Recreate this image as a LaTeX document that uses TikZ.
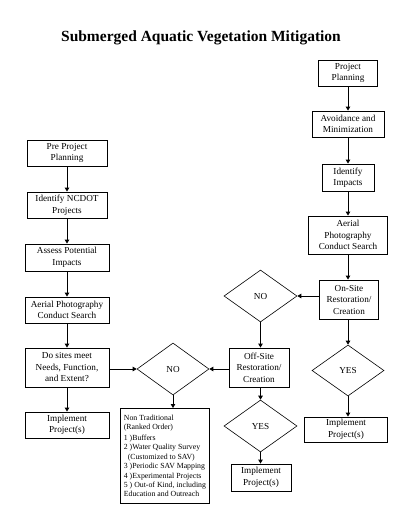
\documentclass[tikz,border=0pt]{standalone}
\usepackage{fontspec}
\setmainfont{Liberation Serif}
\usetikzlibrary{shapes.geometric,arrows.meta}
\tikzset{
  box/.style={draw,line width=0.9pt,inner sep=0pt,align=center,font=\fontsize{9.2}{11.5}\selectfont},
  dia/.style={draw,line width=0.6pt,diamond,inner sep=0pt,font=\fontsize{9.2}{11}\selectfont},
  arr/.style={line width=0.9pt,-{Triangle[width=4.5pt,length=4pt]}},
  ln/.style={line width=0.9pt}
}
\begin{document}
\begin{tikzpicture}[x=1pt,y=-1pt]
\useasboundingbox (0,0) rectangle (407,527);
\node[font=\fontsize{15.5}{17}\selectfont\bfseries] (title) at (201,38) {Submerged Aquatic Vegetation Mitigation};
% right column
\node[box,minimum width=59,minimum height=26] (pp) at (348,73) {Project\\Planning};
\node[box,minimum width=72,minimum height=26] (am) at (348,124) {Avoidance and\\Minimization};
\node[box,minimum width=52,minimum height=27] (ii) at (348,177.5) {Identify\\Impacts};
\node[box,minimum width=79,minimum height=38] (apr) at (348,235) {Aerial\\Photography\\Conduct Search};
\node[box,minimum width=59,minimum height=39] (os) at (349,299.5) {On-Site\\Restoration/\\Creation};
\node[dia,minimum width=73,minimum height=52] (no1) at (260.5,296) {NO};
\node[box,minimum width=60,minimum height=39] (offs) at (259,367.5) {Off-Site\\Restoration/\\Creation};
\node[dia,minimum width=73,minimum height=52] (yes1) at (260.5,426) {YES};
\node[box,minimum width=60,minimum height=27] (imm) at (261,477.5) {Implement\\Project(s)};
\node[dia,minimum width=72,minimum height=51] (yes2) at (348,370.5) {YES};
\node[box,minimum width=83,minimum height=25] (imr) at (346,429.5) {Implement\\Project(s)};
% left column
\node[box,minimum width=80,minimum height=26] (ppl) at (67,153) {Pre Project\\Planning};
\node[box,minimum width=80,minimum height=26] (idn) at (67,205) {Identify NCDOT\\Projects};
\node[box,minimum width=84,minimum height=27] (ass) at (67,257.5) {Assess Potential\\Impacts};
\node[box,minimum width=84,minimum height=26] (apl) at (67,310) {Aerial Photography\\Conduct Search};
\node[box,minimum width=84,minimum height=39] (ds) at (67,367.5) {Do sites meet\\Needs, Function,\\and Extent?};
\node[box,minimum width=84,minimum height=26] (iml) at (67,425) {Implement\\Project(s)};
\node[dia,minimum width=72,minimum height=52] (no2) at (173,369) {NO};
\node[box,minimum width=89,minimum height=95,align=left,anchor=north west,inner sep=2.2pt,font=\fontsize{7.8}{9.4}\selectfont] (nt) at (120,408) {Non Traditional\\(Ranked Order)\\[1.5pt]1 )Buffers\\2 )Water Quality Survey\\\ \ (Customized to SAV)\\3 )Periodic SAV Mapping\\4 )Experimental Projects\\5 ) Out-of Kind, including\\Education and Outreach};
% connectors
\draw[arr] (pp) -- (am);
\draw[arr] (am) -- (ii);
\draw[arr] (ii) -- (apr);
\draw[arr] (apr.south) -- (apr.south |- os.north);
\draw[arr] (no1.east -| os.west) -- (no1.east);
\draw[arr] (no1.south) -- (no1.south |- offs.north);
\draw[arr] (offs.south -| yes1.north) -- (yes1.north);
\draw[arr] (yes1.south) -- (yes1.south |- imm.north);
\draw[arr] (os.south -| yes2.north) -- (yes2.north);
\draw[arr] (yes2.south) -- (yes2.south |- imr.north);
\draw[arr] (ppl) -- (idn);
\draw[arr] (idn) -- (ass);
\draw[arr] (ass) -- (apl);
\draw[arr] (apl) -- (ds);
\draw[arr] (ds) -- (iml);
\draw[arr] (ds.east |- no2.west) -- (no2.west);
\draw[arr] (no2.east -| offs.west) -- (no2.east);
\draw[arr] (no2.south) -- (no2.south |- nt.north);
\end{tikzpicture}
\end{document}
